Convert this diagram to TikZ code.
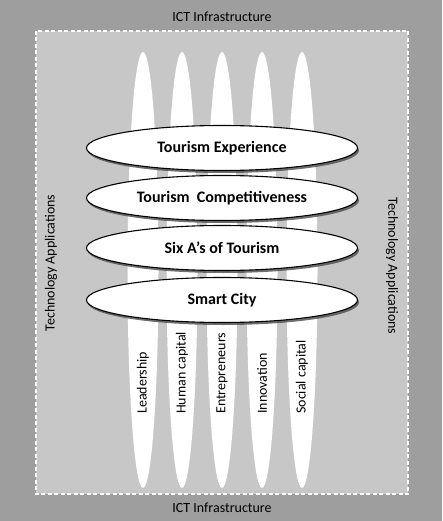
\documentclass[tikz,border=0pt]{standalone}
\usepackage{fontspec}
\setmainfont{Carlito}
\usetikzlibrary{shapes.geometric,shadows}
\definecolor{outerg}{gray}{0.62}
\definecolor{innerg}{gray}{0.78}
\tikzset{
  pillar/.style={ellipse,fill=white,draw=none,minimum width=31pt,minimum height=436pt,inner sep=0pt},
  layer/.style={ellipse,fill=white,draw=black,line width=1.1pt,minimum width=271pt,minimum height=45pt,inner sep=0pt,
    font=\bfseries\fontsize{16}{18}\selectfont,
    drop shadow={shadow xshift=1.5pt,shadow yshift=-2.5pt,fill=black!70,opacity=0.8}},
  plabel/.style={rotate=90,anchor=west,inner sep=0pt,font=\fontsize{14}{16}\selectfont},
  side/.style={inner sep=0pt,font=\fontsize{14}{16}\selectfont}
}
\begin{document}
\begin{tikzpicture}[x=1pt,y=-1pt]
\useasboundingbox (0,0) rectangle (442,521);
\fill[outerg] (0,0) rectangle (442,521);
\fill[innerg] (36,31) rectangle (408,494);
\draw[white,dashed,line width=1.3pt,dash pattern=on 4pt off 2.5pt] (36,31) rectangle (408,494);
\node[side] (ictt) at (222,17) {ICT Infrastructure};
\node[side] (ictb) at (222,508) {ICT Infrastructure};
\node[side,rotate=90] (tal) at (51,263) {Technology Applications};
\node[side,rotate=-90] (tar) at (392,266) {Technology Applications};
\node[pillar] (p1) at (143,270) {};
\node[pillar] (p2) at (182,270) {};
\node[pillar] (p3) at (222,270) {};
\node[pillar] (p4) at (262,270) {};
\node[pillar] (p5) at (302,270) {};
\node[plabel] (l1) at (143,414) {Leadership};
\node[plabel] (l2) at (182,414) {Human capital};
\node[plabel] (l3) at (222,414) {Entrepreneurs};
\node[plabel] (l4) at (262,414) {Innovation};
\node[plabel] (l5) at (302,414) {Social capital};
\node[layer] (e1) at (222,148) {Tourism Experience};
\node[layer] (e2) at (222,198) {Tourism\ \ Competitiveness};
\node[layer] (e3) at (222,248) {Six A's of Tourism};
\node[layer] (e4) at (222,300) {Smart City};
\end{tikzpicture}
\end{document}
